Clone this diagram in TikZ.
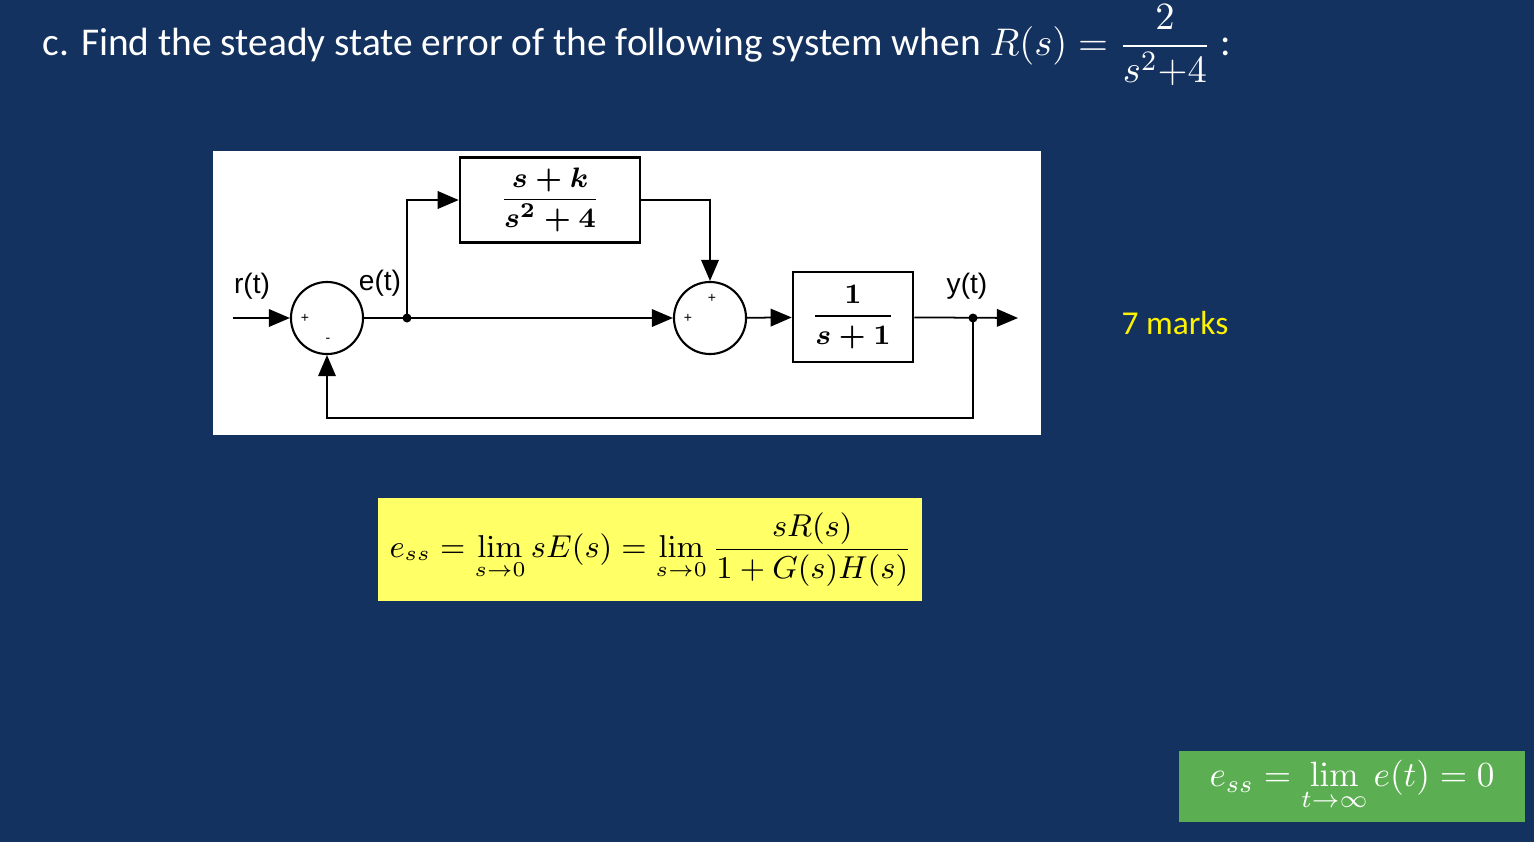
\documentclass[tikz,border=0pt]{standalone}
\usepackage{amsmath}
\usepackage[no-math]{fontspec}
\setmainfont{Carlito}
\newfontfamily\arialf{Liberation Sans}
\usetikzlibrary{arrows.meta}
\definecolor{bgblue}{HTML}{14325F}
\definecolor{ylw}{HTML}{FFFF66}
\definecolor{grn}{HTML}{5BAE52}
\begin{document}
\begin{tikzpicture}[x=0.01cm,y=-0.01cm,
  blk/.style={draw,line width=0.7pt,fill=white,inner sep=0},
  sumc/.style={draw,circle,line width=0.6pt,minimum size=0.72cm,inner sep=0},
  sig/.style={-{Triangle[length=6pt,width=5pt]},line width=0.5pt},
  lbl/.style={font=\arialf\fontsize{8}{9}\selectfont},
  sgn/.style={font=\arialf\fontsize{4}{5}\selectfont}]
\useasboundingbox (0,0) rectangle (1534,842);
\fill[bgblue] (0,0) rectangle (1534,842);
\node[anchor=west,text=white,inner sep=0,font=\fontsize{11.2}{13}\selectfont] (title) at (42,45)
  {c. Find the steady state error of the following system when $R(s)=\dfrac{2}{s^2{+}4}$ :};
\fill[white] (213,151) rectangle (1041,435);
\node[blk,minimum width=1.8cm,minimum height=0.85cm,font=\fontsize{8}{9}\selectfont] (g1) at (550,200) {$\dfrac{\boldsymbol{s+k}}{\boldsymbol{s^2+4}}$};
\node[blk,minimum width=1.2cm,minimum height=0.9cm,font=\fontsize{8}{9}\selectfont] (g2) at (853,317) {$\dfrac{\mathbf{1}}{\boldsymbol{s+1}}$};
\node[sumc] (s1) at (327,318) {};
\node[sumc] (s2) at (710,318) {};
\coordinate (rin) at (233,318);
\coordinate (ed) at (407,318);
\coordinate (yd) at (973,318);
\coordinate (yout) at (1018,318);
\draw[sig] (rin) -- (s1);
\draw[line width=0.5pt] (s1) -- (ed);
\draw[sig] (ed) -- (s2);
\draw[sig] (ed) |- (g1);
\draw[sig] (g1.east) -| (s2.north);
\draw[sig] (s2) -- (g2);
\draw[sig] (g2) -- (yout);
\draw[sig] (yd) -- (973,418) -| (s1.south);
\fill (ed) circle (4.5); \fill (yd) circle (4.5);
\node[lbl] (lr) at (252,286) {r(t)};
\node[lbl] (le) at (380,283) {e(t)};
\node[lbl] (ly) at (967,286) {y(t)};
\node[sgn] (p1) at (305,318) {+};
\node[sgn] (m1) at (328,340) {-};
\node[sgn] (p2) at (712,298) {+};
\node[sgn] (p3) at (688,318) {+};
\node[text=yellow,font=\fontsize{9.5}{11}\selectfont] (marks) at (1175,323) {7 marks};
\fill[ylw] (378,498) rectangle (922,601);
\node[font=\fontsize{9}{11}\selectfont,inner sep=0] (f1) at (651,550)
  {$e_{ss}=\lim\limits_{s\to0} sE(s)=\lim\limits_{s\to0}\dfrac{sR(s)}{1+G(s)H(s)}$};
\fill[grn] (1179,751) rectangle (1525,822);
\node[text=white,font=\fontsize{10}{12}\selectfont] (f2) at (1352,786)
  {$e_{ss}=\lim\limits_{t\to\infty} e(t)=0$};
\end{tikzpicture}
\end{document}
